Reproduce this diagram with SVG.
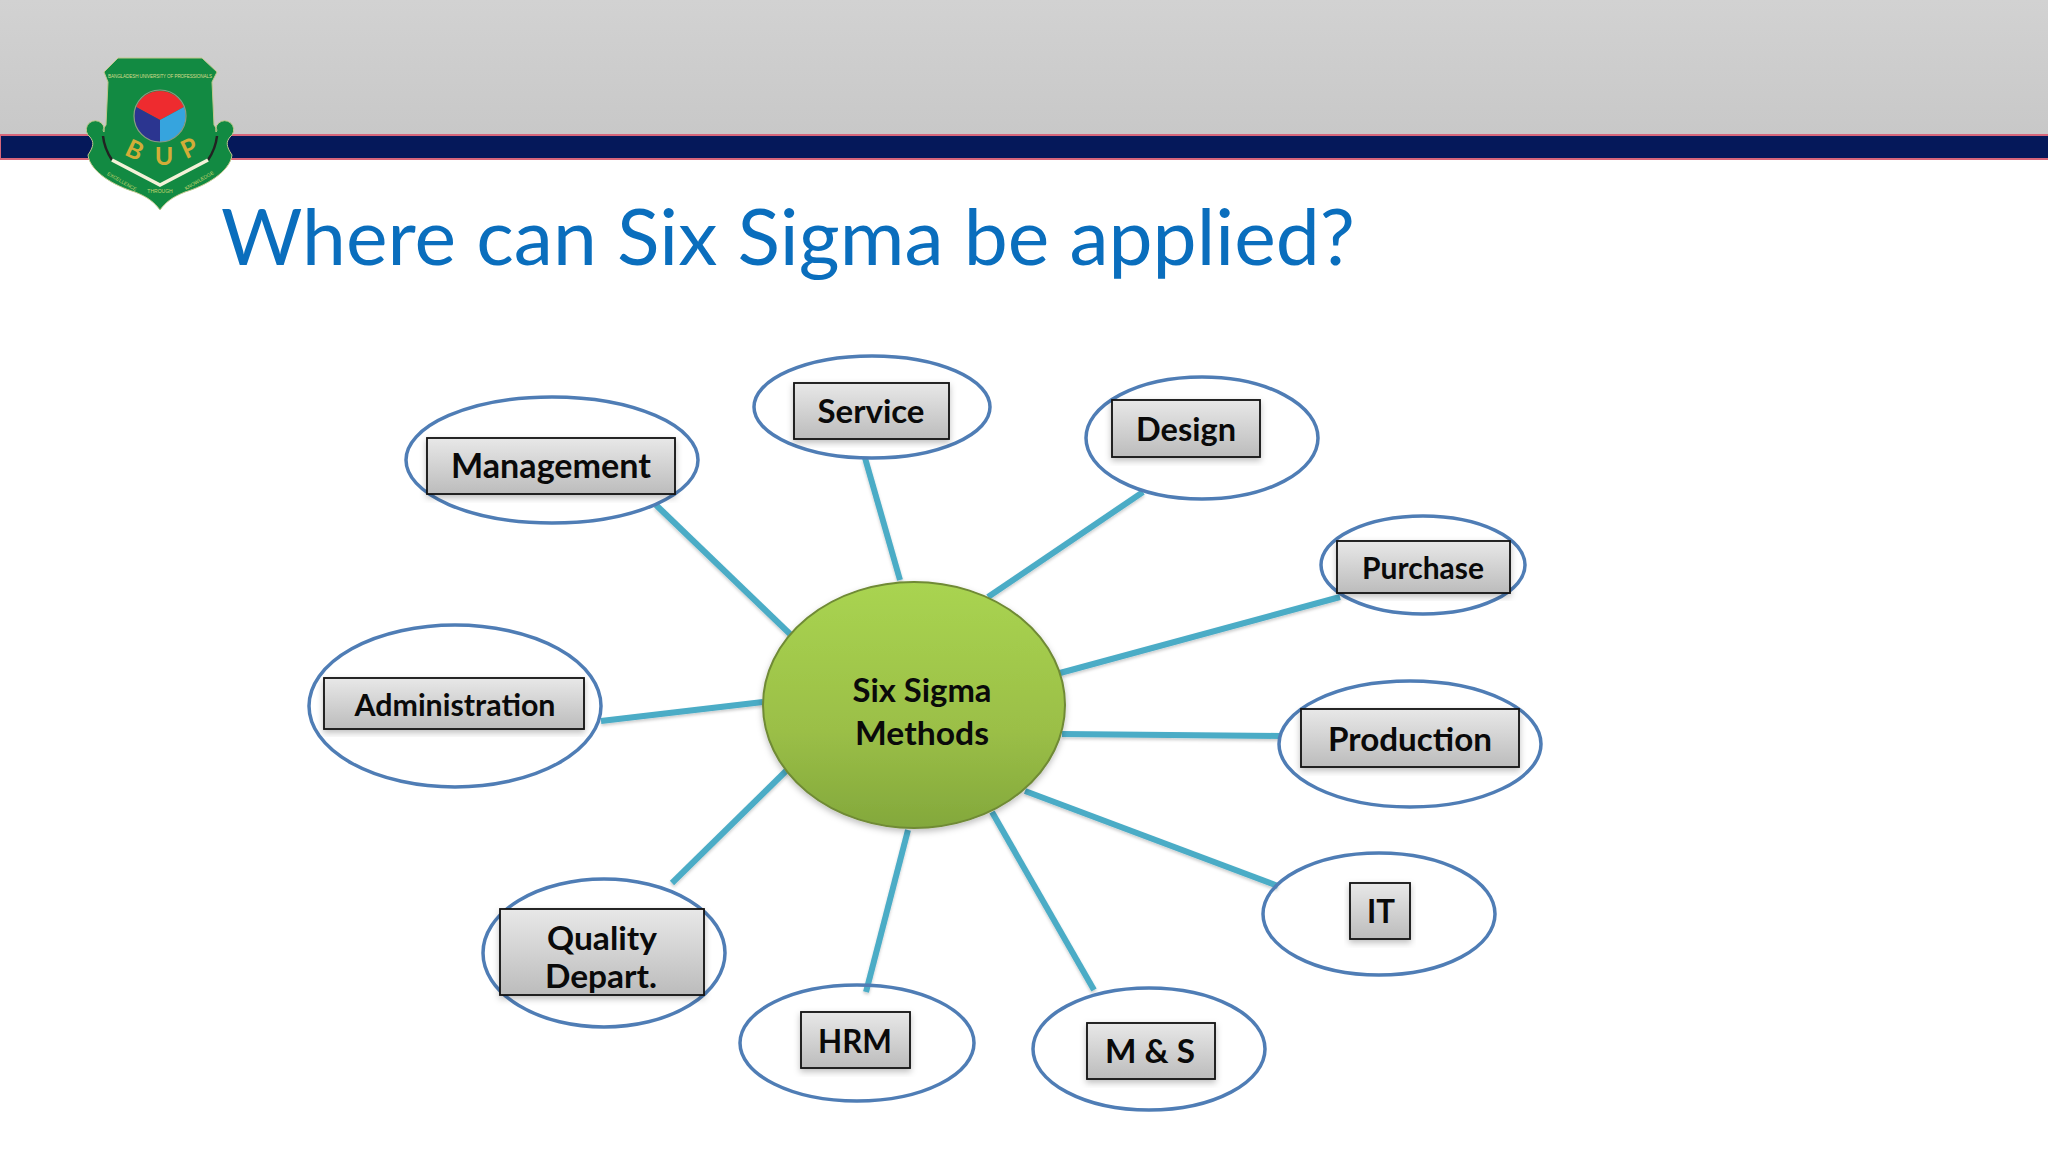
<svg xmlns="http://www.w3.org/2000/svg" width="2048" height="1152" viewBox="0 0 2048 1152">
<defs>
<linearGradient id="hdr" x1="0" y1="0" x2="0" y2="1"><stop offset="0" stop-color="#d2d2d2"/><stop offset="1" stop-color="#c8c8c8"/></linearGradient>
<linearGradient id="box" x1="0" y1="0" x2="0" y2="1"><stop offset="0" stop-color="#e8e8e8"/><stop offset="1" stop-color="#bcbcbc"/></linearGradient>
<linearGradient id="hub" x1="0" y1="0" x2="0" y2="1"><stop offset="0" stop-color="#a9d451"/><stop offset="0.6" stop-color="#9bbf47"/><stop offset="1" stop-color="#83a83c"/></linearGradient>
<filter id="sh" x="-10%" y="-10%" width="120%" height="125%"><feDropShadow dx="0" dy="3" stdDeviation="3" flood-color="#000" flood-opacity="0.25"/></filter>
<filter id="lnsh" x="-5%" y="-5%" width="110%" height="110%"><feDropShadow dx="0" dy="2" stdDeviation="1.5" flood-color="#000" flood-opacity="0.2"/></filter>
<style>
.ring{fill:none;stroke:#4f7db5;stroke-width:3.5}
.bx{fill:url(#box);stroke:#111;stroke-width:1.8;filter:url(#sh)}
.lbl{font-family:Lato,"Liberation Sans",sans-serif;font-weight:700;fill:#0a0a0a;text-anchor:middle}
.cn{stroke:#4bacc6;stroke-width:6;fill:none}
.motto{font-family:"Liberation Sans",sans-serif;font-size:5px;fill:#c7d56f;text-anchor:middle}
</style>
</defs>
<rect width="2048" height="1152" fill="#fff"/>
<g id="header">
<rect width="2048" height="135" fill="url(#hdr)"/>
<rect y="134" width="2048" height="26" fill="#d8667a"/>
<rect x="1" y="136" width="2047" height="22" fill="#05185a"/>
</g>
<g id="logo">
<path d="M118 58H202L217 72L212 82L214 125C216 128 218 130 216 132A9 9 0 1 1 230 137C226 142 226 146 232 155C230 172 205 186 185 192C172 197 165 203 160 210C155 203 148 197 135 192C115 186 90 172 88 155C94 146 94 142 90 137A9 9 0 1 1 104 132C102 130 104 128 106 125L108 82L104 72Z" fill="#128a42" stroke="#c2c98e" stroke-width="1"/>
<path d="M103 136C104 146 108 154 112 160" fill="none" stroke="#222" stroke-width="2.5"/>
<path d="M217 136C216 146 212 154 208 160" fill="none" stroke="#222" stroke-width="2.5"/>
<path d="M112 160L160 185L208 160" fill="none" stroke="#f4f1d8" stroke-width="3.5"/>
<path d="M136 107A26 26 0 0 1 184 107L160 120Z" fill="#ee2b2f"/>
<path d="M136 107L160 120V142A26 26 0 0 1 136 107Z" fill="#2b3590"/>
<path d="M184 107L160 120V142A26 26 0 0 0 184 107Z" fill="#36a4de"/>
<circle cx="160" cy="116" r="26" fill="none" stroke="#8d9a86" stroke-width="1.2"/>
<g font-family="Lato,'Liberation Sans',sans-serif" font-size="25" font-weight="700" fill="#d2ad38" text-anchor="middle">
<text transform="translate(131 158) rotate(25)">B</text>
<text x="164" y="165">U</text>
<text transform="translate(193 156) rotate(-25)">P</text>
</g>
<text x="160" y="78" font-family="'Liberation Sans',sans-serif" font-size="4.6" fill="#d7dc8c" text-anchor="middle" textLength="104">BANGLADESH UNIVERSITY OF PROFESSIONALS</text>
<text class="motto" transform="translate(121 183) rotate(30)">EXCELLENCE</text>
<text class="motto" x="160" y="193">THROUGH</text>
<text class="motto" transform="translate(200 182) rotate(-30)">KNOWLEDGE</text>
</g>
<text id="title" x="221" y="265" font-family="Lato,'Open Sans',sans-serif" font-size="77" fill="#0a6ebd" textLength="1134" lengthAdjust="spacingAndGlyphs">Where can Six Sigma be applied?</text>
<g id="connectors" class="cn" filter="url(#lnsh)">
<line x1="656" y1="505" x2="790" y2="634"/>
<line x1="865" y1="458" x2="900" y2="580"/>
<line x1="1143" y1="492" x2="988" y2="597"/>
<line x1="1340" y1="597" x2="1060" y2="673"/>
<line x1="1280" y1="736" x2="1062" y2="734"/>
<line x1="1278" y1="886" x2="1025" y2="791"/>
<line x1="1094" y1="990" x2="992" y2="812"/>
<line x1="866" y1="992" x2="908" y2="830"/>
<line x1="672" y1="883" x2="787" y2="770"/>
<line x1="601" y1="721" x2="763" y2="702"/>
</g>
<g id="hub-node">
<ellipse cx="914" cy="705" rx="151" ry="123" fill="url(#hub)" stroke="#6f8a35" stroke-width="2" filter="url(#sh)"/>
<text class="lbl" font-size="32" x="922" y="702" textLength="139" lengthAdjust="spacingAndGlyphs">Six Sigma</text>
<text class="lbl" font-size="32" x="922" y="745" textLength="134" lengthAdjust="spacingAndGlyphs">Methods</text>
</g>
<g id="management"><ellipse class="ring" cx="552" cy="460" rx="146" ry="63"/><rect class="bx" x="427" y="438" width="248" height="56"/><text class="lbl" font-size="34" x="551" y="478" textLength="200" lengthAdjust="spacingAndGlyphs">Management</text></g>
<g id="service"><ellipse class="ring" cx="872" cy="407" rx="118" ry="51"/><rect class="bx" x="794" y="383" width="155" height="56"/><text class="lbl" font-size="33" x="871" y="423" textLength="107" lengthAdjust="spacingAndGlyphs">Service</text></g>
<g id="design"><ellipse class="ring" cx="1202" cy="438" rx="116" ry="61"/><rect class="bx" x="1112" y="400" width="148" height="57"/><text class="lbl" font-size="33" x="1186" y="441" textLength="100" lengthAdjust="spacingAndGlyphs">Design</text></g>
<g id="purchase"><ellipse class="ring" cx="1423" cy="565" rx="102" ry="49"/><rect class="bx" x="1337" y="541" width="173" height="52"/><text class="lbl" font-size="30" x="1423" y="579" textLength="122" lengthAdjust="spacingAndGlyphs">Purchase</text></g>
<g id="production"><ellipse class="ring" cx="1410" cy="744" rx="131" ry="63"/><rect class="bx" x="1301" y="709" width="218" height="58"/><text class="lbl" font-size="33" x="1410" y="751" textLength="164" lengthAdjust="spacingAndGlyphs">Production</text></g>
<g id="it"><ellipse class="ring" cx="1379" cy="914" rx="116" ry="61"/><rect class="bx" x="1350" y="883" width="60" height="56"/><text class="lbl" font-size="33" x="1381" y="923" textLength="28" lengthAdjust="spacingAndGlyphs">IT</text></g>
<g id="ms"><ellipse class="ring" cx="1149" cy="1049" rx="116" ry="61"/><rect class="bx" x="1087" y="1023" width="128" height="56"/><text class="lbl" font-size="33" x="1150" y="1063" textLength="90" lengthAdjust="spacingAndGlyphs">M &amp; S</text></g>
<g id="hrm"><ellipse class="ring" cx="857" cy="1043" rx="117" ry="58"/><rect class="bx" x="801" y="1012" width="109" height="56"/><text class="lbl" font-size="33" x="855" y="1053" textLength="74" lengthAdjust="spacingAndGlyphs">HRM</text></g>
<g id="quality"><ellipse class="ring" cx="604" cy="953" rx="121" ry="74"/><rect class="bx" x="500" y="909" width="204" height="86"/><text class="lbl" font-size="33" x="602" y="950" textLength="110" lengthAdjust="spacingAndGlyphs">Quality</text><text class="lbl" font-size="33" x="601" y="988" textLength="112" lengthAdjust="spacingAndGlyphs">Depart.</text></g>
<g id="administration"><ellipse class="ring" cx="455" cy="706" rx="146" ry="81"/><rect class="bx" x="324" y="678" width="260" height="51"/><text class="lbl" font-size="31" x="455" y="716" textLength="201" lengthAdjust="spacingAndGlyphs">Administration</text></g>
</svg>
